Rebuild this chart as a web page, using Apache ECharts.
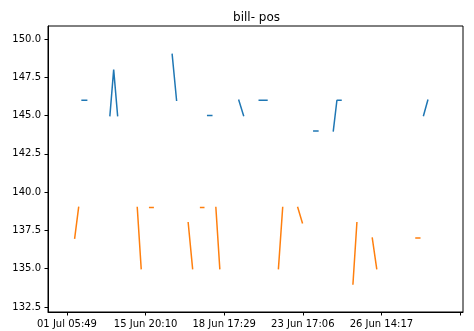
<!DOCTYPE html>
<html>
<head>
<meta charset="utf-8">
<script src="https://cdn.jsdelivr.net/npm/echarts@6/dist/echarts.min.js"></script>
<style>
html,body{margin:0;padding:0;background:#fff;}
#c{width:474px;height:331px;}
</style>
</head>
<body>
<div id="c"></div>
<script>
// data (null = gap between segments)
var blueX = [9.6,12.5,null, 27.3,29.7,32.2,null, 66.9,69.7,null, 89.5,92.1,null, 109.3,112.3,null, 122.3,124.8,127.2,null, 157,159.6,null, 169.4,171.7,174.3,null, 226.8,229.5];
var blueY = [146,146,null, 145,148,145,null, 149,146,null, 145,145,null, 146,145,null, 146,146,146,null, 144,144,null, 144,146,146,null, 145,146];
var orangeX = [4.9,7.4,null, 44.7,47.2,null, 52.6,54.8,null, 77.1,79.9,null, 85,87,null, 94.7,97.2,null, 134.5,137.2,null, 146.8,149.7,null, 181.9,184.4,null, 194.2,197,null, 222,224.4];
var orangeY = [137,139,null, 139,135,null, 139,139,null, 138,135,null, 139,139,null, 139,135,null, 135,139,null, 139,138,null, 134,138,null, 137,135,null, 137,137];
var xTickPos = [0,50,100,150,200,250];
var xTickLabels = ['01 Jul 05:49','15 Jun 20:10','18 Jun 17:29','23 Jun 17:06','26 Jun 14:17',''];
var yTicks = [132.5,135,137.5,140,142.5,145,147.5,150];
var titleText = 'bill- pos';

function pairs(xs, ys){
  var out = [];
  for (var i=0;i<xs.length;i++){
    if (xs[i]===null || ys[i]===null) out.push('-');
    else out.push([xs[i], ys[i]]);
  }
  return out;
}
var font = 'DejaVu Sans';
var chart = echarts.init(document.getElementById('c'), null, {renderer:'canvas'});
chart.setOption({
  animation:false,
  backgroundColor:'#fff',
  title:{text:titleText, left:251.5, top:7, textAlign:'center',
    textStyle:{fontFamily:font, fontSize:12, fontWeight:'normal', color:'#000'}},
  grid:{left:48, right:11, top:26, bottom:19, containLabel:false, show:true, borderColor:'#000', borderWidth:1, backgroundColor:'#fff'},
  xAxis:{type:'value', min:-12.08, max:251.9,
    axisLine:{show:true, onZero:false, lineStyle:{color:'#000', width:1}},
    axisTick:{show:true, inside:false, length:3.5, customValues:xTickPos, lineStyle:{color:'#000'}},
    axisLabel:{customValues:xTickPos, margin:7, fontFamily:font, fontSize:10, color:'#000',
      formatter:function(v){ var i = xTickPos.indexOf(v); return i>=0 ? xTickLabels[i] : ''; }},
    splitLine:{show:false}},
  yAxis:{type:'value', min:132.17, max:150.85,
    axisLine:{show:true, onZero:false, lineStyle:{color:'#000', width:1}},
    axisTick:{show:true, inside:false, length:3.5, customValues:yTicks, lineStyle:{color:'#000'}},
    axisLabel:{customValues:yTicks, margin:7, fontFamily:font, fontSize:10, color:'#000',
      formatter:function(v){ return v.toFixed(1); }},
    splitLine:{show:false}},
  series:[
    {type:'line', data:pairs(blueX, blueY), showSymbol:false, connectNulls:false,
      lineStyle:{color:'#1f77b4', width:1.5, cap:'square'}, itemStyle:{color:'#1f77b4'}},
    {type:'line', data:pairs(orangeX, orangeY), showSymbol:false, connectNulls:false,
      lineStyle:{color:'#ff7f0e', width:1.5, cap:'square'}, itemStyle:{color:'#ff7f0e'}}
  ]
});
</script>
</body>
</html>
